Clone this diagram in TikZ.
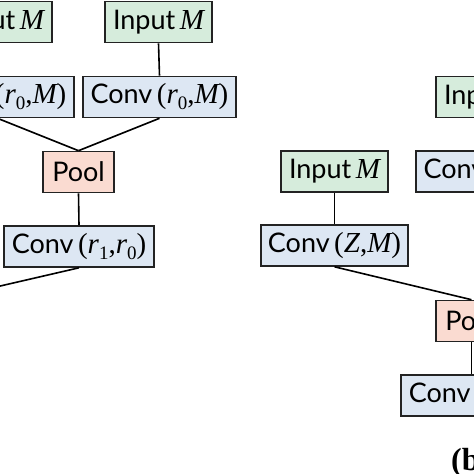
\documentclass[tikz,border=0pt]{standalone}
\usepackage{fontspec}
\setsansfont{Lato}
\newfontfamily\tms{Liberation Serif}
\definecolor{ingreen}{RGB}{214,236,220}
\definecolor{convblue}{RGB}{221,231,243}
\definecolor{poolpink}{RGB}{250,219,209}
\definecolor{edgegray}{RGB}{35,35,35}
\newcommand\mv[1]{{\tms\itshape\fontsize{29}{30}\selectfont #1}}
\newcommand\sbs[1]{\raisebox{-0.22em}{\tms\fontsize{19}{19}\selectfont #1}}
\newcommand\pr[1]{{\tms\fontsize{29}{30}\selectfont #1}}
\tikzset{
  box/.style={draw=edgegray, line width=1.6pt, minimum height=41pt, inner xsep=1pt, inner ysep=0pt,
    font=\sffamily\fontsize{27}{30}\selectfont, anchor=center},
  inbox/.style={box, fill=ingreen, minimum width=107pt},
  convbox/.style={box, fill=convblue},
  poolbox/.style={box, fill=poolpink, minimum width=71pt},
  link/.style={draw=black, line width=1.6pt}
}
\begin{document}
\begin{tikzpicture}[x=1pt,y=-1pt]
\useasboundingbox (0,0) rectangle (474,474);
\clip (0,0) rectangle (474,474);
% left tree
\node[inbox] (inL) at (-1.5,22) {Input\,\mv{M}};
\node[inbox] (inR) at (158.5,22) {Input\,\mv{M}};
\node[convbox, minimum width=153pt] (cvL) at (-2.5,97) {Conv\,\pr{(}\mv{r}\sbs{0}\pr{,}\mv{M}\pr{)}};
\node[convbox, minimum width=153pt] (cvR) at (159.5,97) {Conv\,\pr{(}\mv{r}\sbs{0}\pr{,}\mv{M}\pr{)}};
\node[poolbox] (poolA) at (78.5,172) {Pool};
\node[convbox, minimum width=150pt] (cvA) at (79,246.5) {Conv\,\pr{(}\mv{r}\sbs{1}\pr{,}\mv{r}\sbs{0}\pr{)}};
\node[poolbox] (poolLL) at (-59,321) {Pool};
% right tree
\node[inbox] (in2) at (334.5,171.5) {Input\,\mv{M}};
\node[convbox, minimum width=147pt] (cvZ) at (334.5,245.5) {Conv\,\pr{(}\mv{Z}\pr{,}\mv{M}\pr{)}};
\node[inbox] (in3) at (489.5,97) {Input\,\mv{M}};
\node[convbox, minimum width=153pt] (cv3) at (492.5,171.5) {Conv\,\pr{(}\mv{r}\sbs{0}\pr{,}\mv{M}\pr{)}};
\node[poolbox] (poolB) at (471.5,321) {Pool};
\node[convbox, minimum width=150pt] (cvB) at (476,395.5) {Conv\,\pr{(}\mv{r}\sbs{1}\pr{,}\mv{r}\sbs{0}\pr{)}};
\node[anchor=base west, inner sep=0pt, font=\tms\bfseries\fontsize{32}{36}\selectfont] (lab) at (451,470) {(b)};
% connectors
\draw[link] (inL.south) -- (cvL.north);
\draw[link] (inR.south) -- (cvR.north);
\draw[link] (cvL.south) -- (poolA.north);
\draw[link] (cvR.south) -- (poolA.north);
\draw[link] (poolA.south) -- (cvA.north);
\draw[link] (cvA.south) -- (poolLL.north);
\draw[link] (in2.south) -- (cvZ.north);
\draw[link] (in3.south) -- (cv3.north);
\draw[link] (cvZ.south) -- (poolB.north);
\draw[link] (poolB.south) -- (poolB.south |- cvB.north);
\end{tikzpicture}
\end{document}
